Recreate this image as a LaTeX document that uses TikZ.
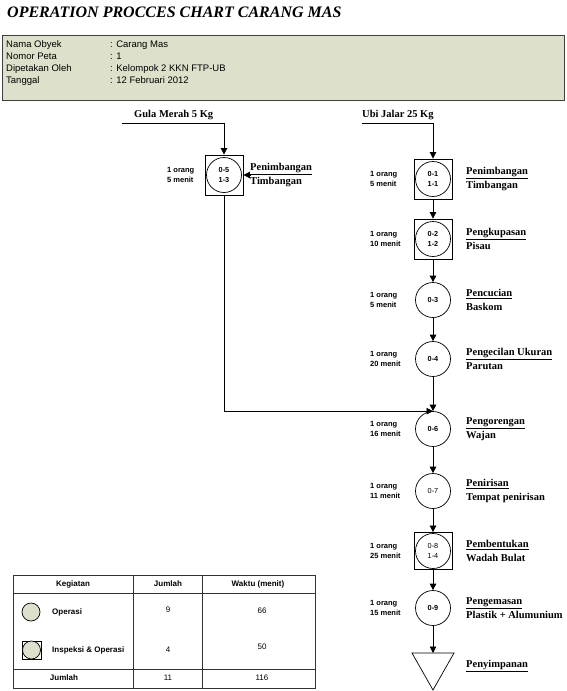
\documentclass[tikz,border=0pt]{standalone}
\usepackage{fontspec}
\setmainfont{Liberation Serif}
\setsansfont{Liberation Sans}
\usetikzlibrary{
  arrows.meta,
  calc,
}
\definecolor{infobg}{HTML}{DDE0CA}
\newcommand\fsz[2]{\fontsize{#1}{#2}\selectfont}

\begin{document}
\begin{tikzpicture}[
  x=1pt, y=-1pt,
  flow/.style={-{Triangle[length=6.5pt,width=6.5pt]}, line width=0.7pt},
  opr/.style={circle, draw, line width=0.7pt, fill=white, minimum size=35pt,
    inner sep=0pt, align=center, font=\sffamily\bfseries\fsz{7.3}{10}},
  oprlight/.style={opr, font=\sffamily\fsz{7.3}{10}},
  insp/.style={rectangle, draw, line width=0.8pt, minimum width=38pt,
    minimum height=40pt, inner sep=0pt},
  who/.style={anchor=west, align=left, inner sep=0pt, font=\sffamily\bfseries\fsz{7.5}{10.5}},
  what/.style={anchor=west, align=left, inner sep=0pt, font=\bfseries\fsz{10.5}{14.5}},
  info/.style={anchor=base west, inner sep=0pt, font=\sffamily\fsz{9.5}{11}},
  tbl/.style={inner sep=0pt, font=\sffamily\fsz{8}{9}},
  tblb/.style={tbl, font=\sffamily\bfseries\fsz{8}{9}},
]
\useasboundingbox (0,0) rectangle (567,691);

\node[anchor=base west, inner sep=0pt, font=\bfseries\itshape\fsz{16}{18}] (title)
  at (7,17.5) {OPERATION PROCCES CHART CARANG MAS};

% data peta
\draw[line width=1pt, draw=black!75, fill=infobg] (2,35) rectangle (564,100);
\foreach \k/\lab/\val in {0/Nama Obyek/Carang Mas, 1/Nomor Peta/1,
  2/Dipetakan Oleh/Kelompok 2 KKN FTP-UB, 3/Tanggal/12 Februari 2012} {
  \node[info] at (6,47+12*\k) {\lab};
  \node[info] at (110,47+12*\k) {: \val};
}

% bahan
\node[anchor=base west, inner sep=0pt, font=\bfseries\fsz{10.5}{12}] (gula) at (134,117) {Gula Merah 5 Kg};
\node[anchor=base west, inner sep=0pt, font=\bfseries\fsz{10.5}{12}] (ubi) at (362,117) {Ubi Jalar 25 Kg};
\coordinate (gin) at (122,123);
\coordinate (uin) at (362,123);

% gula merah
\node[insp] (s5) at (224,175) {};
\node[opr] (o5) at (224,175) {0-5\\1-3};
\node[who] at (167,175) {1 orang\\5 menit};
\node[what] at (250,175) {\underline{Penimbangan}\\Timbangan};
\draw[flow] ($(s5.east)+(7,0)$) -- (s5.east);

% ubi jalar
\node[insp] (s1) at (433,179) {};
\node[opr] (o1) at (433,179) {0-1\\1-1};
\node[insp] (s2) at (433,239) {};
\node[opr] (o2) at (433,239) {0-2\\1-2};
\node[opr] (o3) at (433,300) {0-3};
\node[opr] (o4) at (433,359) {0-4};
\node[opr] (o6) at (433,429) {0-6};
\node[oprlight] (o7) at (433,491) {0-7};
\node[insp, minimum height=37pt] (s8) at (433,551) {};
\node[oprlight] (o8) at (433,551) {0-8\\1-4};
\node[opr] (o9) at (433,608) {0-9};
\draw[line width=0.7pt] (412,653) -- (454,653) -- (433,690) -- cycle;
\coordinate (t) at (433,653);

\foreach \y/\n in {179/5, 239/10, 300/5, 359/20, 429/16, 491/11, 551/25, 608/15}
  \node[who] at (370,\y) {1 orang\\\n\ menit};

\node[what] at (466,179) {\underline{Penimbangan}\\Timbangan};
\node[what] at (466,239) {\underline{Pengkupasan}\\Pisau};
\node[what] at (466,300) {\underline{Pencucian}\\Baskom};
\node[what] at (466,359) {\underline{Pengecilan Ukuran}\\Parutan};
\node[what] at (466,429) {\underline{Pengorengan}\\Wajan};
\node[what] at (466,491) {\underline{Penirisan}\\Tempat penirisan};
\node[what] at (466,551) {\underline{Pembentukan}\\Wadah Bulat};
\node[what] at (466,608) {\underline{Pengemasan}\\Plastik + Alumunium};
\node[what] at (466,666) {\underline{Penyimpanan}};

% aliran
\draw[flow] (gin) -| (s5.north);
\draw[flow] (uin) -| (s1.north);
\draw[flow] (s1.south) -- (s2.north);
\draw[flow] (s2.south) -- (o3.north);
\draw[flow] (o3.south) -- (o4.north);
\draw[flow] (o4.south) -- (o6.north);
\draw[flow] (s5.south) |- (o6.north);
\draw[flow] (o6.south) -- (o7.north);
\draw[flow] (o7.south) -- (s8.north);
\draw[flow] (s8.south) -- (o9.north);
\draw[flow] (o9.south) -- (t);

% ringkasan
\draw[line width=0.8pt, draw=black!80] (13,575) rectangle (315,688);
\draw[line width=0.8pt, draw=black!80] (13,593) -- (315,593) (13,669) -- (315,669)
  (133,575) -- (133,688) (202,575) -- (202,688);
\node[tblb] at (73,584) {Kegiatan};
\node[tblb] at (168,584) {Jumlah};
\node[tblb] at (258,584) {Waktu (menit)};
\draw[line width=0.7pt, fill=infobg] (31,612) circle[radius=9];
\draw[line width=0.7pt] (22,641) rectangle (41,659);
\draw[line width=0.7pt, fill=infobg] (31.5,650) circle[radius=9];
\node[tblb, anchor=west] at (52,612) {Operasi};
\node[tblb, anchor=west] at (52,650) {Inspeksi \& Operasi};
\node[tbl] at (168,610) {9};
\node[tbl] at (262,611) {66};
\node[tbl] at (168,650) {4};
\node[tbl] at (262,647) {50};
\node[tblb] at (64,678) {Jumlah};
\node[tbl] at (168,678) {11};
\node[tbl] at (262,678) {116};
\end{tikzpicture}
\end{document}
